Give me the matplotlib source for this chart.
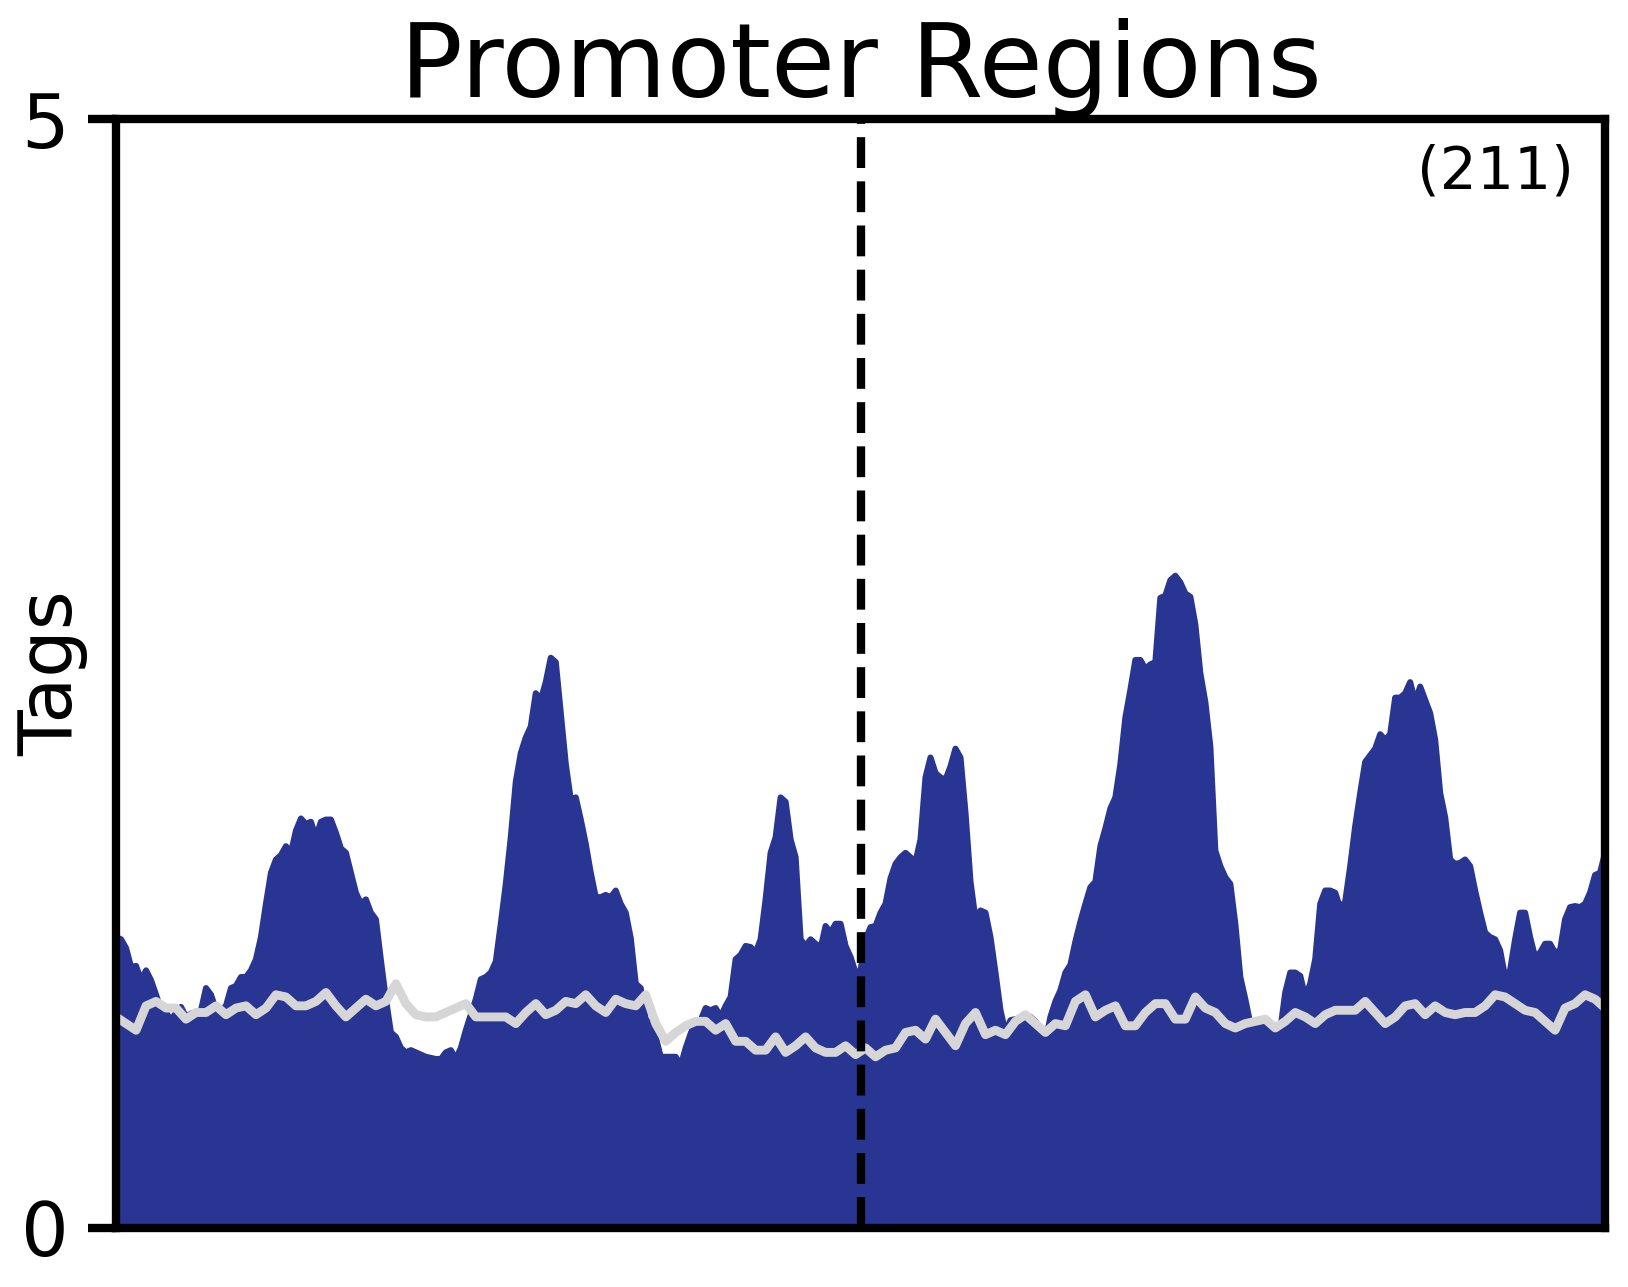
import numpy as np
import matplotlib
matplotlib.use("Agg")
import matplotlib.pyplot as plt

# Sample (blue) tag density, read at 299 evenly spaced positions
sample_tags = [
    1.31, 1.30, 1.26, 1.175, 1.18, 1.115, 1.16, 1.115, 1.05, 0.98,
    0.97, 0.935, 0.97, 0.995, 0.95, 0.965, 0.97, 0.98, 1.08, 1.05,
    0.98, 0.98, 1.00, 1.08, 1.09, 1.13, 1.13, 1.16, 1.21, 1.31,
    1.46, 1.60, 1.66, 1.68, 1.72, 1.69, 1.79, 1.845, 1.82, 1.83,
    1.76, 1.83, 1.84, 1.84, 1.78, 1.71, 1.69, 1.60, 1.51, 1.46,
    1.48, 1.42, 1.39, 1.205, 1.03, 0.88, 0.86, 0.81, 0.79, 0.80,
    0.79, 0.78, 0.77, 0.765, 0.76, 0.76, 0.79, 0.80, 0.76, 0.81,
    0.89, 0.96, 1.03, 1.12, 1.13, 1.15, 1.20, 1.37, 1.55, 1.76,
    2.01, 2.14, 2.21, 2.26, 2.41, 2.38, 2.46, 2.57, 2.55, 2.32,
    2.09, 1.93, 1.94, 1.84, 1.73, 1.60, 1.49, 1.49, 1.50, 1.49,
    1.52, 1.46, 1.42, 1.305, 1.10, 1.08, 0.94, 0.915, 0.86, 0.77,
    0.77, 0.77, 0.77, 0.73, 0.81, 0.875, 0.93, 0.935, 0.99, 0.98,
    0.99, 0.95, 1.00, 1.04, 1.21, 1.23, 1.27, 1.265, 1.24, 1.30,
    1.48, 1.69, 1.76, 1.94, 1.92, 1.75, 1.67, 1.30, 1.27, 1.30,
    1.28, 1.26, 1.36, 1.33, 1.37, 1.37, 1.27, 1.22, 1.15, 1.16,
    1.30, 1.355, 1.36, 1.42, 1.46, 1.575, 1.64, 1.67, 1.69, 1.67,
    1.65, 1.75, 2.03, 2.12, 2.05, 2.03, 2.02, 2.08, 2.16, 2.12,
    1.87, 1.56, 1.39, 1.43, 1.42, 1.31, 1.15, 0.98, 0.88, 0.935,
    0.94, 0.945, 0.95, 0.95, 0.93, 0.89, 0.84, 0.95, 1.02, 1.07,
    1.15, 1.185, 1.29, 1.38, 1.46, 1.535, 1.56, 1.72, 1.80, 1.89,
    1.94, 2.09, 2.30, 2.425, 2.56, 2.56, 2.52, 2.54, 2.55, 2.84,
    2.85, 2.92, 2.94, 2.91, 2.86, 2.845, 2.72, 2.50, 2.37, 2.17,
    1.70, 1.63, 1.58, 1.55, 1.37, 1.13, 1.03, 0.92, 0.92, 0.92,
    0.92, 0.92, 0.91, 0.89, 1.06, 1.15, 1.15, 1.135, 1.04, 1.10,
    1.21, 1.46, 1.52, 1.52, 1.51, 1.44, 1.47, 1.63, 1.81, 1.96,
    2.10, 2.13, 2.16, 2.225, 2.20, 2.225, 2.39, 2.39, 2.41, 2.46,
    2.37, 2.44, 2.38, 2.32, 2.20, 1.96, 1.85, 1.66, 1.64, 1.645,
    1.66, 1.63, 1.52, 1.42, 1.33, 1.31, 1.30, 1.25, 1.13, 1.16,
    1.30, 1.42, 1.42, 1.31, 1.22, 1.24, 1.28, 1.28, 1.24, 1.25,
    1.39, 1.445, 1.45, 1.445, 1.46, 1.51, 1.59, 1.60, 1.69,
]

# Input / control (grey) tag density, read at 150 evenly spaced positions
control_tags = [
    0.95, 0.92, 0.89, 1.00, 1.02, 0.99, 0.99, 0.94, 0.97, 0.97,
    1.00, 0.96, 0.99, 1.00, 0.96, 0.99, 1.05, 1.04, 1.00, 1.00,
    1.02, 1.06, 1.00, 0.95, 0.99, 1.03, 1.00, 1.02, 1.10, 1.01,
    0.96, 0.95, 0.95, 0.97, 0.99, 1.01, 0.95, 0.95, 0.95, 0.95,
    0.92, 0.97, 1.01, 0.96, 0.98, 1.02, 1.01, 1.05, 1.00, 0.97,
    1.03, 1.01, 1.00, 1.05, 0.92, 0.84, 0.88, 0.91, 0.93, 0.93,
    0.89, 0.92, 0.84, 0.84, 0.80, 0.80, 0.86, 0.79, 0.82, 0.86,
    0.81, 0.79, 0.79, 0.82, 0.78, 0.81, 0.77, 0.80, 0.81, 0.88,
    0.89, 0.85, 0.94, 0.88, 0.82, 0.92, 0.97, 0.87, 0.89, 0.87,
    0.93, 0.96, 0.92, 0.88, 0.92, 0.91, 1.02, 1.05, 0.95, 0.98,
    1.00, 0.91, 0.91, 0.97, 1.01, 1.01, 0.94, 0.94, 1.04, 0.99,
    0.97, 0.92, 0.90, 0.92, 0.93, 0.94, 0.90, 0.93, 0.97, 0.95,
    0.92, 0.96, 0.98, 0.98, 0.98, 1.02, 0.97, 0.92, 0.95, 1.00,
    1.01, 0.96, 1.00, 0.97, 0.96, 0.97, 0.97, 1.00, 1.05, 1.04,
    1.01, 0.98, 0.97, 0.93, 0.89, 0.99, 1.01, 1.05, 1.03, 0.99,
]

# Distance to TSS (bp)
x_start, x_end = -1000, 1000

title_text = "Promoter Regions"
ylabel_text = "Tags"
count_text = "(211)"
y_ticks = [0, 5]

blue = "#283593"
grey = "#d6d6d6"

fig = plt.figure(figsize=(8.14, 6.435), dpi=200)
ax = fig.add_axes([0.0713, 0.0462, 0.9146, 0.8613])

ys = np.array(sample_tags)
yc = np.array(control_tags)
xs = np.linspace(x_start, x_end, len(ys))
xc = np.linspace(x_start, x_end, len(yc))

ax.fill_between(xs, 0, ys, color=blue, linewidth=0, zorder=1)
ax.plot(xs, ys, color=blue, lw=2.2, solid_joinstyle="round",
        solid_capstyle="round", zorder=1.5)
ax.plot(xc, yc, color=grey, lw=3.2, solid_joinstyle="round", zorder=2)
ax.axvline(0, color="black", lw=3, ls="--", zorder=3)

ax.set_xlim(x_start, x_end)
ax.set_ylim(0, 5)
ax.set_yticks(y_ticks)
ax.set_xticks([])
ax.tick_params(axis="y", direction="out", length=10, width=3, labelsize=27, pad=7)
for s in ax.spines.values():
    s.set_linewidth(3)
    s.set_color("black")
    s.set_zorder(4)

ax.set_title(title_text, fontsize=37.5, pad=8)
ax.set_ylabel(ylabel_text, fontsize=27)
ax.yaxis.set_label_coords(-0.019, 0.5)
ax.text(0.979, 0.978, count_text, transform=ax.transAxes, ha="right", va="top", fontsize=21)

fig.savefig("out.png", dpi=200)
